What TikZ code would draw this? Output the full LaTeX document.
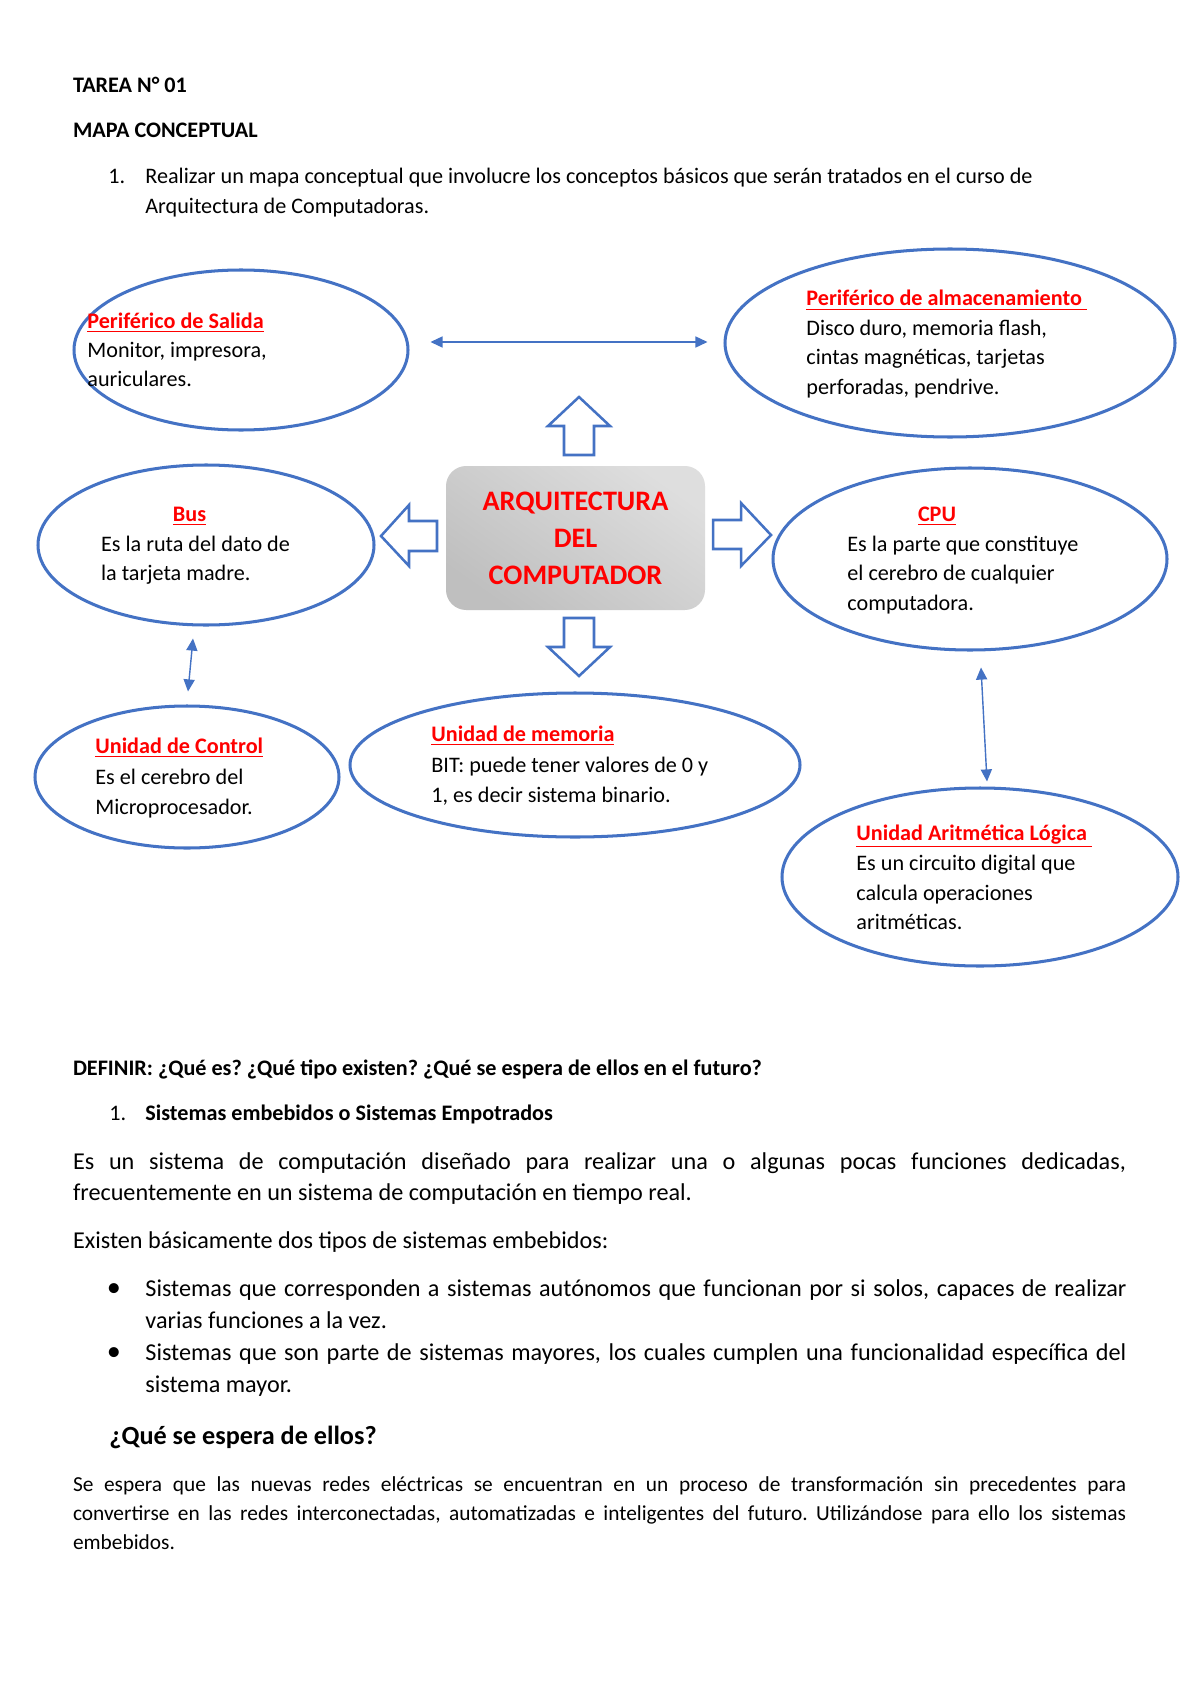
\documentclass[tikz,border=0pt]{standalone}
\usepackage{fontspec}
\setmainfont{Carlito}
\usetikzlibrary{shapes.geometric,arrows.meta,calc}
\definecolor{ublue}{HTML}{4472C4}
\definecolor{ured}{HTML}{FF0000}
\def\pxu{0.4961pt}
\newcommand{\jl}[2]{\makebox[#1][s]{#2}}
\frenchspacing
\begin{document}
\begin{tikzpicture}[x=0.4961pt,y=-0.4961pt,
  ell/.style={ellipse, draw=ublue, line width=1.5pt, fill=white, inner sep=0},
  tx/.style={anchor=base west, inner sep=0},
  txc/.style={anchor=base, inner sep=0},
  f10/.style={font=\fontsize{10.6}{12}\selectfont},
  f11/.style={font=\fontsize{11}{13}\selectfont},
  f11b/.style={font=\fontsize{11}{13}\selectfont\bfseries},
  f12/.style={font=\fontsize{12}{14}\selectfont},
  ttl/.style={font=\fontsize{11}{13}\selectfont\bfseries, text=ured},
  barrow/.style={draw=ublue, line width=1.25pt, fill=white, line join=miter},
  tarrow/.style={draw=ublue, line width=0.7pt, {Triangle[length=6pt,width=5.5pt]}-{Triangle[length=6pt,width=5.5pt]}}
]
\fill[white] (0,0) rectangle (1200,1696);
\useasboundingbox (0,0) rectangle (1200,1696);

% header
\node[tx,f11b] (h1) at (72.6,93) {TAREA N° 01};
\node[tx,f11b] (h2) at (72.6,138) {MAPA CONCEPTUAL};
\node[tx,f11] (h3n) at (108,184) {1.};
\node[tx,f11] (h3) at (145,184) {Realizar un mapa conceptual que involucre los conceptos básicos que serán tratados en el curso de};
\node[tx,f11] (h4) at (145,213) {Arquitectura de Computadoras.};

% ellipses
\node[ell, minimum width=334*\pxu, minimum height=160*\pxu] (sal) at (241,350) {};
\node[ell, minimum width=450*\pxu, minimum height=188*\pxu] (alm) at (950,343) {};
\node[ell, minimum width=336*\pxu, minimum height=160*\pxu] (bus) at (206,545) {};
\node[ell, minimum width=394*\pxu, minimum height=182*\pxu] (cpu) at (970,559) {};
\node[ell, minimum width=304*\pxu, minimum height=142*\pxu] (ctl) at (187,777) {};
\node[ell, minimum width=450*\pxu, minimum height=144*\pxu] (mem) at (575,765) {};
\node[ell, minimum width=396*\pxu, minimum height=178*\pxu] (alu) at (980,877) {};

% central box
\node[rounded corners=10pt, minimum width=259*\pxu, minimum height=144*\pxu,
      left color=black!13, right color=black!25, shading angle=-35, inner sep=0,
      align=center, text=ured, font=\fontsize{14}{18.4}\selectfont\bfseries] (core) at (575.5,538)
      {ARQUITECTURA\\DEL\\COMPUTADOR};

% block arrows
\draw[barrow] (579,397) -- (610,426) -- (594,426) -- (594,455) -- (564,455) -- (564,426) -- (548,426) -- cycle;
\draw[barrow] (564,618) -- (594,618) -- (594,647) -- (610,647) -- (579,676) -- (548,647) -- (564,647) -- cycle;
\draw[barrow] (381,536) -- (409,505) -- (409,521) -- (437,521) -- (437,551) -- (409,551) -- (409,566) -- cycle;
\draw[barrow] (713,520) -- (741,520) -- (741,503) -- (771,535) -- (741,566) -- (741,549) -- (713,549) -- cycle;

% thin arrows
\draw[tarrow] ($(sal.east)+(21,-8)$) -- ($(alm.west)+(-16,-1)$);
\draw[tarrow] ($(bus.south)+(-13,12)$) -- ($(ctl.north)+(1,-13)$);
\draw[tarrow] ($(cpu.south)+(11,16)$) -- ($(alu.north)+(7,-5)$);

% ellipse texts
\node[tx,ttl] (salT) at (87,328) {\underline{Periférico de Salida}};
\node[tx,f11] (sal1) at (87,357) {Monitor, impresora,};
\node[tx,f11] (sal2) at (87,386) {auriculares.};

\node[tx,ttl] (almT) at (806,306) {\underline{Periférico de almacenamiento\ }};
\node[tx,f11] (alm1) at (806,335) {Disco duro, memoria flash,};
\node[tx,f11] (alm2) at (806,364.5) {cintas magnéticas, tarjetas};
\node[tx,f11] (alm3) at (806,394) {perforadas, pendrive.};

\node[txc,ttl] (busT) at (189.5,521.5) {\underline{Bus}};
\node[tx,f11] (bus1) at (100.7,551) {Es la ruta del dato de};
\node[tx,f11] (bus2) at (100.7,580) {la tarjeta madre.};

\node[txc,ttl] (cpuT) at (937,521.5) {\underline{CPU}};
\node[tx,f11] (cpu1) at (847,551) {Es la parte que constituye};
\node[tx,f11] (cpu2) at (847,580) {el cerebro de cualquier};
\node[tx,f11] (cpu3) at (847,610) {computadora.};

\node[tx,ttl] (ctlT) at (95,753) {\underline{Unidad de Control}};
\node[tx,f11] (ctl1) at (95,784) {Es el cerebro del};
\node[tx,f11] (ctl2) at (95,814) {Microprocesador.};

\node[tx,ttl] (memT) at (431,741) {\underline{Unidad de memoria}};
\node[tx,f11] (mem1) at (431,772) {BIT: puede tener valores de 0 y};
\node[tx,f11] (mem2) at (431,802) {1, es decir sistema binario.};

\node[tx,ttl] (aluT) at (856,840) {\underline{Unidad Aritmética Lógica\ }};
\node[tx,f11] (alu1) at (856,870) {Es un circuito digital que};
\node[tx,f11] (alu2) at (856,900) {calcula operaciones};
\node[tx,f11] (alu3) at (856,929) {aritméticas.};

% bottom text
\node[tx,f11b] (d1) at (72.6,1075) {DEFINIR: ¿Qué es? ¿Qué tipo existen? ¿Qué se espera de ellos en el futuro?};
\node[tx,f11] (d2n) at (109,1120) {1.};
\node[tx,f11b] (d2) at (145,1120) {Sistemas embebidos o Sistemas Empotrados};
\node[tx,f12] (p1a) at (72.6,1169) {\jl{522.4pt}{Es un sistema de computación diseñado para realizar una o algunas pocas funciones dedicadas,}};
\node[tx,f12] (p1b) at (72.6,1200.5) {frecuentemente en un sistema de computación en tiempo real.};
\node[tx,f12] (p2) at (72.6,1248) {Existen básicamente dos tipos de sistemas embebidos:};
\node[txc,font=\fontsize{14}{14}\selectfont] (b1) at (114,1296) {•};
\node[tx,f12] (b1a) at (145,1296) {\jl{486.7pt}{Sistemas que corresponden a sistemas autónomos que funcionan por si solos, capaces de realizar}};
\node[tx,f12] (b1b) at (145,1328) {varias funciones a la vez.};
\node[txc,font=\fontsize{14}{14}\selectfont] (b2) at (114,1360) {•};
\node[tx,f12] (b2a) at (145,1360) {\jl{486.7pt}{Sistemas que son parte de sistemas mayores, los cuales cumplen una funcionalidad específica del}};
\node[tx,f12] (b2b) at (145,1392) {sistema mayor.};
\node[tx,font=\fontsize{13}{15}\selectfont\bfseries] (q) at (109,1444) {¿Qué se espera de ellos?};
\node[tx,f10] (l1) at (72.6,1491) {\jl{522.4pt}{Se espera que las nuevas redes eléctricas se encuentran en un proceso de transformación sin precedentes para}};
\node[tx,f10] (l2) at (72.6,1520) {\jl{522.4pt}{convertirse en las redes interconectadas, automatizadas e inteligentes del futuro. Utilizándose para ello los sistemas}};
\node[tx,f10] (l3) at (72.6,1549) {embebidos.};
\end{tikzpicture}
\end{document}
